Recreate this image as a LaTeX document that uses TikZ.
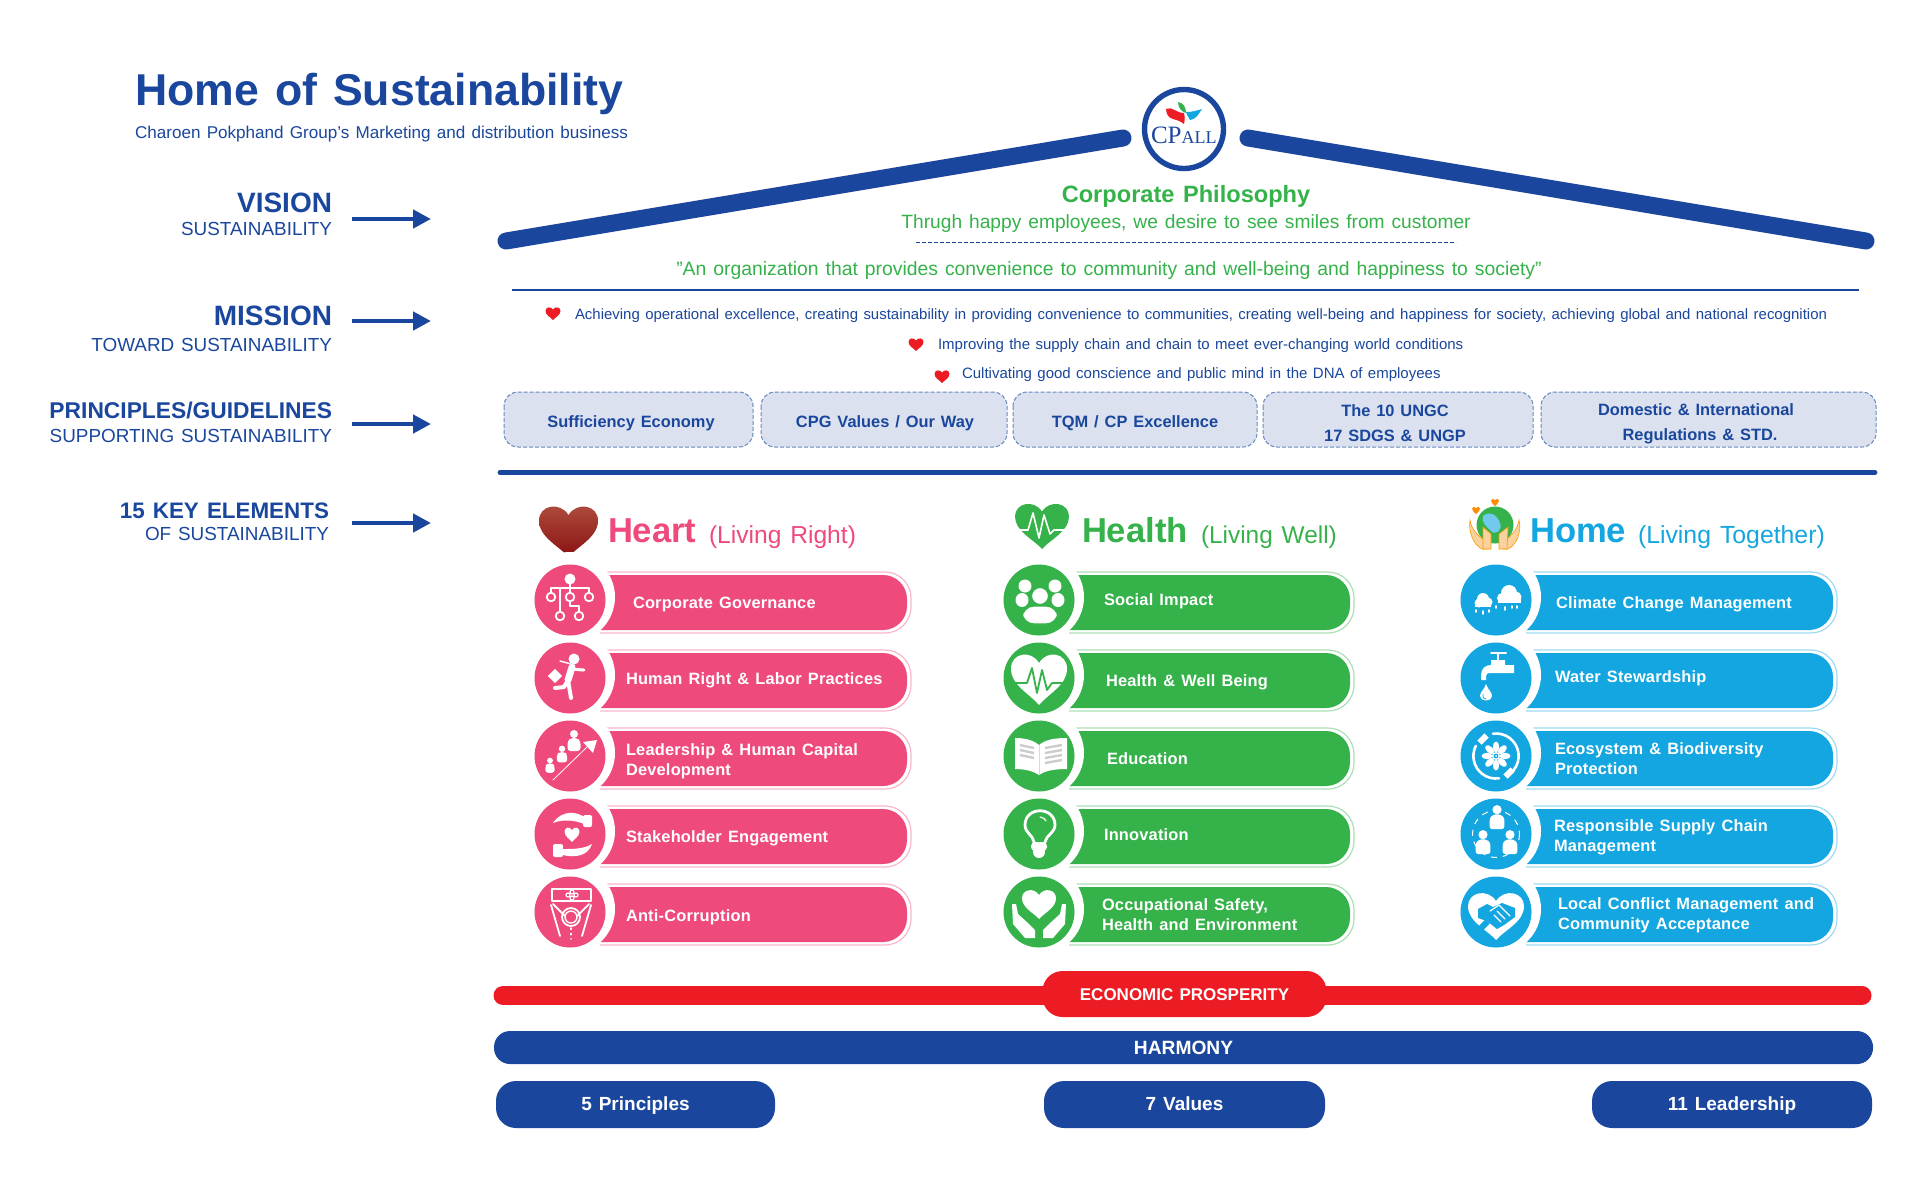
\documentclass[tikz,border=0pt]{standalone}
\usepackage{fontspec}
\setmainfont{Liberation Sans}[WordSpace=1.3]
\newfontfamily\lsf{Liberation Sans}[LetterSpace=1.2,WordSpace=1.3]
\newfontfamily\logof{Liberation Serif}
\usetikzlibrary{arrows.meta}
\definecolor{navy}{HTML}{1A479D}
\definecolor{pinkc}{HTML}{EF4A7C}
\definecolor{greenc}{HTML}{35B24A}
\definecolor{bluec}{HTML}{13A6E0}
\definecolor{redc}{HTML}{ED1C24}
\definecolor{boxc}{HTML}{DBE1EE}
\definecolor{hand}{HTML}{F9D29D}
\definecolor{htop}{HTML}{B0503F}
\definecolor{hmid}{HTML}{D4241F}
\definecolor{hbot}{HTML}{8A1212}
\tikzset{
  txt/.style={inner sep=0pt,outer sep=0pt},
  arr/.style={draw=navy,line width=2.4pt,-{Triangle[length=9pt,width=9pt]}},
  roof/.style={draw=navy,line width=8.5pt,line cap=round},
  dbox/.style={draw=navy!65,dash pattern=on 2pt off 1pt,line width=.5pt,fill=boxc,rounded corners=7pt},
  pillnode/.style={inner sep=0pt,text=white,rounded corners=10pt,font=\bfseries,text height=7pt,text depth=1pt},
  ws/.style={draw=white,line width=.7pt,fill=none,line cap=round,line join=round},
}
% name, anchor, x, centre y, size pt, font switch + colour, text
\newcommand\T[7]{\node[txt,anchor=base #2] (#1) at (#3,{#4+0.72*#5}) {\fontsize{#5}{#5}\selectfont #6 #7};}
\newcommand\hrt[5]{\path[#5,shift={(#1,#2)},xscale=#3,yscale=#4] (0,1) .. controls (-.3,.62) and (-1,.3) .. (-1,-.3) .. controls (-1,-.85) and (-.3,-1) .. (0,-.5) .. controls (.3,-1) and (1,-.85) .. (1,-.3) .. controls (1,.3) and (.3,.62) .. (0,1) -- cycle;}
% cx, cy, right, colour
\newcommand\rowbar[4]{%
  \fill[#4] ({#1+25},{#2-25}) [rounded corners=12pt] -- (#3,{#2-25}) -- (#3,{#2+30}) [sharp corners] -- ({#1+25},{#2+30}) -- cycle;
  \draw[#4!40,line width=.6pt,rounded corners=13pt] ({#1+36},{#2-28}) -- ({#3+4},{#2-28}) -- ({#3+4},{#2+33}) -- ({#1+30},{#2+33});
  \fill[white] (#1,{#2-3}) circle[radius=45];}
\newcommand\rowdisc[3]{\fill[#3] (#1,#2) circle[radius=35.5];}
\newcommand\person[4]{% x y scale style
  \begin{scope}[shift={(#1,#2)},scale=#3]
    \fill[#4] (0,-9) circle[radius=4];
    \fill[#4,rounded corners=1.5pt] (-6.5,8) -- (-6.5,-2) -- (-3,-5) -- (3,-5) -- (6.5,-2) -- (6.5,8) -- cycle;
  \end{scope}}
\begin{document}
\begin{tikzpicture}[x=0.5pt,y=-0.5pt]
\useasboundingbox (0,0) rectangle (1920,1196);
\fill[white] (0,0) rectangle (1920,1196);

% Title
\T{title}{west}{135}{89}{22.3}{\bfseries\color{navy}}{Home of Sustainability}
\T{subtitle}{west}{135}{132}{8.55}{\color{navy}}{Charoen Pokphand Group's Marketing and distribution business}

% Roof
\coordinate (rl1) at (506,241); \coordinate (rl2) at (1123,138);
\coordinate (rr1) at (1248,138); \coordinate (rr2) at (1866,241);
\draw[roof] (rl1) -- (rl2);
\draw[roof] (rr1) -- (rr2);

% Logo
\node[circle,draw=navy,line width=2.7pt,fill=white,minimum size=39.5pt,inner sep=0pt] (logo) at (1184,129) {};
\fill[redc] (1166,109) .. controls (1172,106) and (1176,113) .. (1184,113) .. controls (1185,116) and (1185,119) .. (1184,124) .. controls (1176,117) and (1167,122) .. (1166,109) -- cycle;
\fill[greenc] (1178,102) .. controls (1184,103) and (1186,108) .. (1186,113) .. controls (1182,112) and (1178,108) .. (1178,102) -- cycle;
\fill[bluec] (1186,112) .. controls (1192,112) and (1195,111) .. (1202,109) .. controls (1198,114) and (1198,118) .. (1190,120) .. controls (1189,117) and (1187,116) .. (1186,112) -- cycle;
\node[txt,anchor=base west] (logotxt) at (1151,143) {\logof\color{navy}\fontsize{12.5}{12.5}\selectfont CP\fontsize{9}{9}\selectfont ALL};

% Philosophy
\T{phil}{}{1186}{194}{11.8}{\bfseries\color{greenc}}{Corporate Philosophy}
\T{thr}{}{1186}{222}{9.6}{\color{greenc}}{Thrugh happy employees, we desire to see smiles from customer}
\coordinate (d1) at (916,242); \coordinate (d2) at (1456,242);
\draw[navy,dash pattern=on 2pt off 1pt,line width=.5pt] (d1) -- (d2);
\T{org}{}{1109}{269}{9.67}{\color{greenc}}{"An organization that provides convenience to community and well-being and happiness to society"}
\coordinate (l1) at (512,290); \coordinate (l2) at (1859,290);
\draw[navy,line width=.8pt] (l1) -- (l2);

% Mission lines
\hrt{553}{313}{7.5}{7}{fill=redc}
\T{m1}{west}{575}{314}{7.48}{\color{navy}}{Achieving operational excellence, creating sustainability in providing convenience to communities, creating well-being and happiness for society, achieving global and national recognition}
\hrt{916}{344}{7.5}{7}{fill=redc}
\T{m2}{west}{938}{344}{7.5}{\color{navy}}{Improving the supply chain and chain to meet ever-changing world conditions}
\hrt{942}{376}{7.5}{7}{fill=redc}
\T{m3}{west}{962}{373}{7.5}{\color{navy}}{Cultivating good conscience and public mind in the DNA of employees}

% Left labels
\T{v1}{east}{332}{202}{14}{\bfseries\color{navy}}{VISION}
\T{v2}{east}{332}{229}{9.45}{\color{navy}}{SUSTAINABILITY}
\T{mi1}{east}{332}{315}{14}{\bfseries\color{navy}}{MISSION}
\T{mi2}{east}{332}{345}{9.45}{\color{navy}}{TOWARD SUSTAINABILITY}
\T{p1}{east}{332}{410}{11.4}{\bfseries\color{navy}}{PRINCIPLES/GUIDELINES}
\T{p2}{east}{332}{436}{9.45}{\color{navy}}{SUPPORTING SUSTAINABILITY}
\T{k1}{east}{329}{510}{11.2}{\bfseries\color{navy}}{15 KEY ELEMENTS}
\T{k2}{east}{329}{534}{9.45}{\color{navy}}{OF SUSTAINABILITY}

\foreach \n/\yy in {a/219,b/321,c/424,e/523}{
  \coordinate (\n1) at (352,\yy); \coordinate (\n2) at (431,\yy);
  \draw[arr] (\n1) -- (\n2);
}

% Principles boxes
\draw[dbox] (504,392) rectangle (753,447);
\draw[dbox] (761,392) rectangle (1007,447);
\draw[dbox] (1013,392) rectangle (1257,447);
\draw[dbox] (1263,392) rectangle (1533,447);
\draw[dbox] (1541,392) rectangle (1876,447);
\T{b1}{}{631}{422}{8.2}{\bfseries\color{navy}}{Sufficiency Economy}
\T{b2}{}{885}{422}{8.2}{\bfseries\color{navy}}{CPG Values / Our Way}
\T{b3}{}{1135}{422}{8.2}{\bfseries\color{navy}}{TQM / CP Excellence}
\T{b4a}{}{1395}{411}{8.2}{\bfseries\color{navy}}{The 10 UNGC}
\T{b4b}{}{1395}{436}{8.2}{\bfseries\color{navy}}{17 SDGS \& UNGP}
\T{b5a}{}{1696}{410}{8.2}{\bfseries\color{navy}}{Domestic \& International}
\T{b5b}{}{1700}{435}{8.2}{\bfseries\color{navy}}{Regulations \& STD.}
\coordinate (dv1) at (500,472.5); \coordinate (dv2) at (1875,472.5);
\draw[navy,line width=2.4pt,line cap=round] (dv1) -- (dv2);

% ========= Heart column
\hrt{568.5}{529}{29.5}{28}{top color=htop,middle color=hmid,bottom color=hbot}
\T{hh}{west}{608}{530}{17.3}{\bfseries\color{pinkc}}{Heart}
\T{hs}{west}{709}{535}{12.3}{\color{pinkc}}{(Living Right)}
\foreach \yy in {600,678,756,834,912}{\rowbar{570}{\yy}{907}{pinkc}}
\foreach \yy in {600,678,756,834,912}{\rowdisc{570}{\yy}{pinkc}}
\T{h1}{west}{633}{603}{8.2}{\lsf\bfseries\color{white}}{Corporate Governance}
\T{h2}{west}{626}{679}{8.2}{\lsf\bfseries\color{white}}{Human Right \& Labor Practices}
\T{h3a}{west}{626}{750}{8.2}{\lsf\bfseries\color{white}}{Leadership \& Human Capital}
\T{h3b}{west}{626}{770}{8.2}{\lsf\bfseries\color{white}}{Development}
\T{h4}{west}{626}{837}{8.2}{\lsf\bfseries\color{white}}{Stakeholder Engagement}
\T{h5}{west}{626}{916}{8.2}{\lsf\bfseries\color{white}}{Anti-Corruption}
% icon governance
\begin{scope}[shift={(570,600)}]
  \fill[white] (0,-21) circle[radius=5.5];
  \draw[ws] (0,-21) -- (0,-7);
  \draw[ws] (-19,-7) -- (-19,-12) -- (19,-12) -- (19,-7);
  \draw[ws] (-10,-12) -- (-10,12);
  \draw[ws] (0,1) -- (0,6) -- (9,6) -- (9,12);
  \foreach \px/\py in {-19/-3,0/-3,19/-3,-10/16,9/16}{\draw[ws,line width=.9pt] (\px,\py) circle[radius=4.3];}
\end{scope}
% icon running person
\begin{scope}[shift={(570,678)}]
  \fill[white] (4,-19) circle[radius=5.5];
  \draw[ws,line width=3.5pt] (2,-11) -- (-2,2);
  \draw[ws,line width=1.5pt] (0,-9) -- (14,-8);
  \draw[ws,line width=2pt] (-2,2) -- (1,20);
  \draw[ws,line width=2pt] (-2,2) -- (-6,9) -- (-15,10);
  \draw[ws,line width=.7pt] (1,-14) -- (-10,-17);
  \fill[white,rotate around={45:(-15,-2)}] (-20,-7) rectangle (-10,3);
\end{scope}
% icon stairs
\begin{scope}[shift={(570,756)}]
  \person{-20}{11}{.72}{white}
  \person{-8}{0}{.8}{white}
  \person{4}{-13}{1}{white}
  \draw[ws,line width=.4pt] (-17,24) -- (17,-9);
  \fill[white] (13,-14) -- (27,-16) -- (23,-3) -- cycle;
\end{scope}
% icon hands
\begin{scope}[shift={(570,834)}]
  \fill[white] (-17,-11) .. controls (-8,-25) and (8,-22) .. (14,-17) -- (14,-10) .. controls (5,-14) and (-8,-15) .. (-17,-11) -- cycle;
  \fill[white,rounded corners=1pt] (13,-19) rectangle (22,-7);
  \hrt{2}{0}{7.5}{8}{fill=white}
  \fill[white,rounded corners=1pt] (-17,10) rectangle (-7,23);
  \fill[white] (-7,15) .. controls (3,15) and (14,15) .. (22,10) .. controls (18,22) and (5,24) .. (-7,21) -- cycle;
\end{scope}
% icon anti-corruption
\begin{scope}[shift={(570,912)}]
  \draw[ws,line width=.9pt] (-18,-23) rectangle (21,-11);
  \foreach \dx/\dy in {-2/-17,2/-20,6/-17,2/-14}{\draw[ws,line width=.6pt] (\dx,\dy) circle[radius=2];}
  \draw[ws,line width=.9pt] (-19,-7) -- (-10,24);
  \draw[ws,line width=.9pt] (21,-7) -- (12,24);
  \draw[ws,line width=.9pt] (-17,-8) -- (-5,4);
  \draw[ws,line width=.9pt] (19,-8) -- (7,4);
  \draw[ws,line width=.9pt] (1,5) circle[radius=9];
  \draw[ws,line width=.7pt] (1,5) circle[radius=6];
  \draw[ws,line width=.7pt,dotted] (1,16) -- (1,27);
\end{scope}

% ========= Health column
\hrt{1042}{524}{27}{25}{fill=greenc}
\coordinate (gp0) at (1016,530);
\draw[white,line width=.8pt,line join=round] (gp0) -- (1028,530) -- (1033,513) -- (1039,538) -- (1044,515) -- (1050,534) -- (1054,530) -- (1068,530);
\T{gh}{west}{1082}{530}{17.3}{\bfseries\color{greenc}}{Health}
\T{gs}{west}{1201}{535}{12.2}{\color{greenc}}{(Living Well)}
\foreach \yy in {600,678,756,834,912}{\rowbar{1039}{\yy}{1350}{greenc}}
\foreach \yy in {600,678,756,834,912}{\rowdisc{1039}{\yy}{greenc}}
\T{g1}{west}{1104}{600}{8.2}{\lsf\bfseries\color{white}}{Social Impact}
\T{g2}{west}{1106}{681}{8.2}{\lsf\bfseries\color{white}}{Health \& Well Being}
\T{g3}{west}{1107}{759}{8.2}{\lsf\bfseries\color{white}}{Education}
\T{g4}{west}{1104}{835}{8.2}{\lsf\bfseries\color{white}}{Innovation}
\T{g5a}{west}{1102}{905}{8.2}{\lsf\bfseries\color{white}}{Occupational Safety,}
\T{g5b}{west}{1102}{925}{8.2}{\lsf\bfseries\color{white}}{Health and Environment}
% icon people
\begin{scope}[shift={(1039,600)}]
  \fill[white] (-14,-14) circle[radius=6.5] (16,-14) circle[radius=6.5];
  \fill[white] (-17,0) ellipse[x radius=6.5,y radius=7] (19,0) ellipse[x radius=6.5,y radius=7];
  \fill[white,draw=greenc,line width=.6pt] (1,-4) circle[radius=8.5];
  \fill[white,draw=greenc,line width=.6pt,rounded corners=6pt] (-17,24) -- (-17,6) -- (19,6) -- (19,24) -- cycle;
\end{scope}
% icon heart pulse
\begin{scope}[shift={(1039,678)}]
  \hrt{0}{-1}{28}{28}{fill=white}
  \draw[greenc,line width=.9pt,line join=round] (-30,5) -- (-12,5) -- (-7,-10) -- (-2,15) -- (3,-8) -- (8,12) -- (13,5) -- (30,5);
\end{scope}
% icon book
\begin{scope}[shift={(1039,756)}]
  \fill[white] (-24,-18) .. controls (-14,-18) and (-6,-16) .. (0,-11) .. controls (6,-16) and (14,-18) .. (28,-18) -- (28,13) .. controls (14,13) and (6,15) .. (0,19) .. controls (-6,15) and (-14,13) .. (-24,13) -- cycle;
  \draw[gray!40,line width=1.2pt] (-19,-11) -- (-5,-8) (-19,-6) -- (-5,-3) (-19,-1) -- (-5,2) (6,-8) -- (23,-11) (6,-3) -- (23,-6) (6,2) -- (23,-1) (6,7) -- (23,4);
  \draw[gray!30,line width=.3pt] (0,-11) -- (0,19);
\end{scope}
% icon bulb
\begin{scope}[shift={(1039,834)}]
  \draw[ws,line width=1.4pt] (-5,8) .. controls (-6,1) and (-14,-1) .. (-14,-9) .. controls (-14,-28) and (16,-28) .. (16,-9) .. controls (16,-1) and (7,1) .. (6,8);
  \draw[ws,line width=.6pt] (1,-17) .. controls (4,-17) and (6,-15) .. (7,-13);
  \fill[white,rounded corners=2pt] (-8,8) rectangle (8,17);
  \fill[white] (0,18) circle[radius=6];
\end{scope}
% icon hands + heart
\begin{scope}[shift={(1039,912)}]
  \hrt{0}{-9}{17}{16}{fill=white}
  \fill[white] (-27,-8) -- (-23,-8) -- (-21,2) -- (-10,12) -- (-4,18) -- (-4,26) -- (-14,26) -- (-26,12) -- cycle;
  \fill[white] (27,-8) -- (23,-8) -- (21,2) -- (10,12) -- (4,18) -- (4,26) -- (14,26) -- (26,12) -- cycle;
\end{scope}

% ========= Home column
\fill[greenc] (1495,525) circle[radius=18.5];
\fill[bluec!60] (1483,516) .. controls (1490,510) and (1497,515) .. (1500,523) .. controls (1503,530) and (1495,537) .. (1490,530) .. controls (1486,526) and (1481,522) .. (1483,516) -- cycle;
\fill[hand,draw=orange!80!yellow,line width=.3pt] (1470,520) .. controls (1471,530) and (1480,538) .. (1490,544) -- (1487,549) -- (1482,549) .. controls (1474,545) and (1468,533) .. (1470,520) -- cycle;
\fill[hand,draw=orange!80!yellow,line width=.3pt] (1519,520) .. controls (1518,530) and (1509,538) .. (1501,544) -- (1503,549) -- (1508,549) .. controls (1516,545) and (1522,533) .. (1519,520) -- cycle;
\fill[hand,draw=orange!80!yellow,line width=.3pt] (1483,527) -- (1491,534) -- (1491,549) -- (1483,549) -- cycle;
\fill[hand,draw=orange!80!yellow,line width=.3pt] (1508,527) -- (1499,534) -- (1499,549) -- (1507,549) -- cycle;
\hrt{1476}{510}{4}{4}{fill=orange!90!yellow}
\hrt{1495}{502}{4}{4}{fill=orange!90!yellow}
\T{bh}{west}{1530}{530}{17.3}{\bfseries\color{bluec}}{Home}
\T{bs}{west}{1638}{535}{12.4}{\color{bluec}}{(Living Together)}
\foreach \yy in {600,678,756,834,912}{\rowbar{1496}{\yy}{1833}{bluec}}
\foreach \yy in {600,678,756,834,912}{\rowdisc{1496}{\yy}{bluec}}
\T{c1}{west}{1556}{603}{8.2}{\lsf\bfseries\color{white}}{Climate Change Management}
\T{c2}{west}{1555}{677}{8.2}{\lsf\bfseries\color{white}}{Water Stewardship}
\T{c3a}{west}{1555}{749}{8.2}{\lsf\bfseries\color{white}}{Ecosystem \& Biodiversity}
\T{c3b}{west}{1555}{769}{8.2}{\lsf\bfseries\color{white}}{Protection}
\T{c4a}{west}{1554}{826}{8.2}{\lsf\bfseries\color{white}}{Responsible Supply Chain}
\T{c4b}{west}{1554}{846}{8.2}{\lsf\bfseries\color{white}}{Management}
\T{c5a}{west}{1558}{904}{8.2}{\lsf\bfseries\color{white}}{Local Conflict Management and}
\T{c5b}{west}{1558}{924}{8.2}{\lsf\bfseries\color{white}}{Community Acceptance}
% icon clouds
\begin{scope}[shift={(1496,600)}]
  \fill[white] (-17,3) circle[radius=4.5] (-13,-1) circle[radius=6] (-8,2) circle[radius=4.5];
  \fill[white] (-21,3) rectangle (-5,7);
  \fill[white] (6,-2) circle[radius=5] (13,-7) circle[radius=8] (20,-3) circle[radius=5.5];
  \fill[white] (2,-3) rectangle (25,3);
  \draw[ws,line width=.9pt] (-20,10) -- (-20,12) (-13,11) -- (-13,14) (-7,10) -- (-7,12) (0,6) -- (0,8) (9,7) -- (9,10) (16,6) -- (16,8) (21,6) -- (21,8);
\end{scope}
% icon tap
\begin{scope}[shift={(1496,678)}]
  \draw[ws,line width=1pt] (-5,-25) -- (10,-25);
  \draw[ws,line width=1.2pt] (2,-25) -- (2,-18);
  \fill[white] (-5,-18) -- (9,-18) -- (9,-13) -- (18,-13) -- (18,-5) -- (-6,-5) .. controls (-10,-5) and (-10,-3) .. (-10,2) -- (-15,2) -- (-15,-3) .. controls (-15,-10) and (-10,-13) .. (-5,-13) -- cycle;
  \fill[white] (-10,6) .. controls (-8,12) and (-4,14) .. (-4,18) .. controls (-4,24) and (-16,24) .. (-16,18) .. controls (-16,14) and (-12,12) .. (-10,6) -- cycle;
  \draw[bluec,line width=.4pt] (-13,16) .. controls (-14,20) and (-11,21) .. (-10,21);
\end{scope}
% icon eco
\begin{scope}[shift={(1496,756)}]
  \draw[ws,line width=1.3pt] (-3,-22.3) arc[start angle=-98,end angle=40,radius=22.5];
  \draw[ws,line width=1.3pt] (3,22.3) arc[start angle=82,end angle=207,radius=22.5];
  \foreach \ang in {0,45,...,315}{\fill[white,rotate=\ang] (0,-9) ellipse[x radius=3.2,y radius=5.5];}
  \fill[white] (0,0) circle[radius=4];
  \fill[bluec] (0,0) circle[radius=2.4];
  \fill[white] (0,0) circle[radius=1];
  \fill[white,rotate around={45:(-13,-17)}] (-18,-20) rectangle (-8,-14);
  \fill[white,rotate around={45:(13,17)}] (8,14) rectangle (18,20);
\end{scope}
% icon people circle
\begin{scope}[shift={(1496,834)}]
  \draw[draw=white,line width=.5pt,dashed] (0,0) circle[radius=23.5];
  \person{1}{-14}{1.15}{white}
  \person{-13}{11}{1.15}{white}
  \person{14}{11}{1.15}{white}
\end{scope}
% icon handshake
\begin{scope}[shift={(1496,912)}]
  \hrt{0}{2}{28}{26}{fill=white}
  \fill[bluec] (-18,-3) -- (-9,-8) -- (-3,-5) -- (6,-9) -- (19,-4) -- (19,5) -- (8,13) -- (1,17) -- (-9,9) -- (-18,6) -- cycle;
  \draw[white,line width=.6pt,line cap=round,line join=round] (-6,-1) -- (3,-7) -- (14,4) (1,-1) -- (9,7) (-2,3) -- (5,10);
  \fill[bluec,rotate around={45:(-12,13)}] (-17,10) rectangle (-7,16);
\end{scope}

% ========= Foundation
\coordinate (eb1) at (503,995.5); \coordinate (eb2) at (1862,995.5);
\draw[redc,line width=9.5pt,line cap=round] (eb1) -- (eb2);
\node[pillnode,fill=redc,minimum width=142pt,minimum height=23pt] (econ) at (1184.5,994) {\fontsize{8.5}{8.5}\selectfont ECONOMIC PROSPERITY};
\node[pillnode,fill=navy,minimum width=689.5pt,minimum height=16.5pt,rounded corners=8pt,text depth=0pt] (harm) at (1183.5,1047.5) {\fontsize{9.6}{9.6}\selectfont HARMONY};
\node[pillnode,fill=navy,minimum width=139.5pt,minimum height=23.5pt] (pr) at (635.5,1104.5) {\fontsize{9.5}{9.5}\selectfont 5 Principles};
\node[pillnode,fill=navy,minimum width=140.5pt,minimum height=23.5pt] (va) at (1184.5,1104.5) {\fontsize{9.5}{9.5}\selectfont 7 Values};
\node[pillnode,fill=navy,minimum width=140pt,minimum height=23.5pt] (le) at (1732,1104.5) {\fontsize{9.5}{9.5}\selectfont 11 Leadership};
\end{tikzpicture}
\end{document}
